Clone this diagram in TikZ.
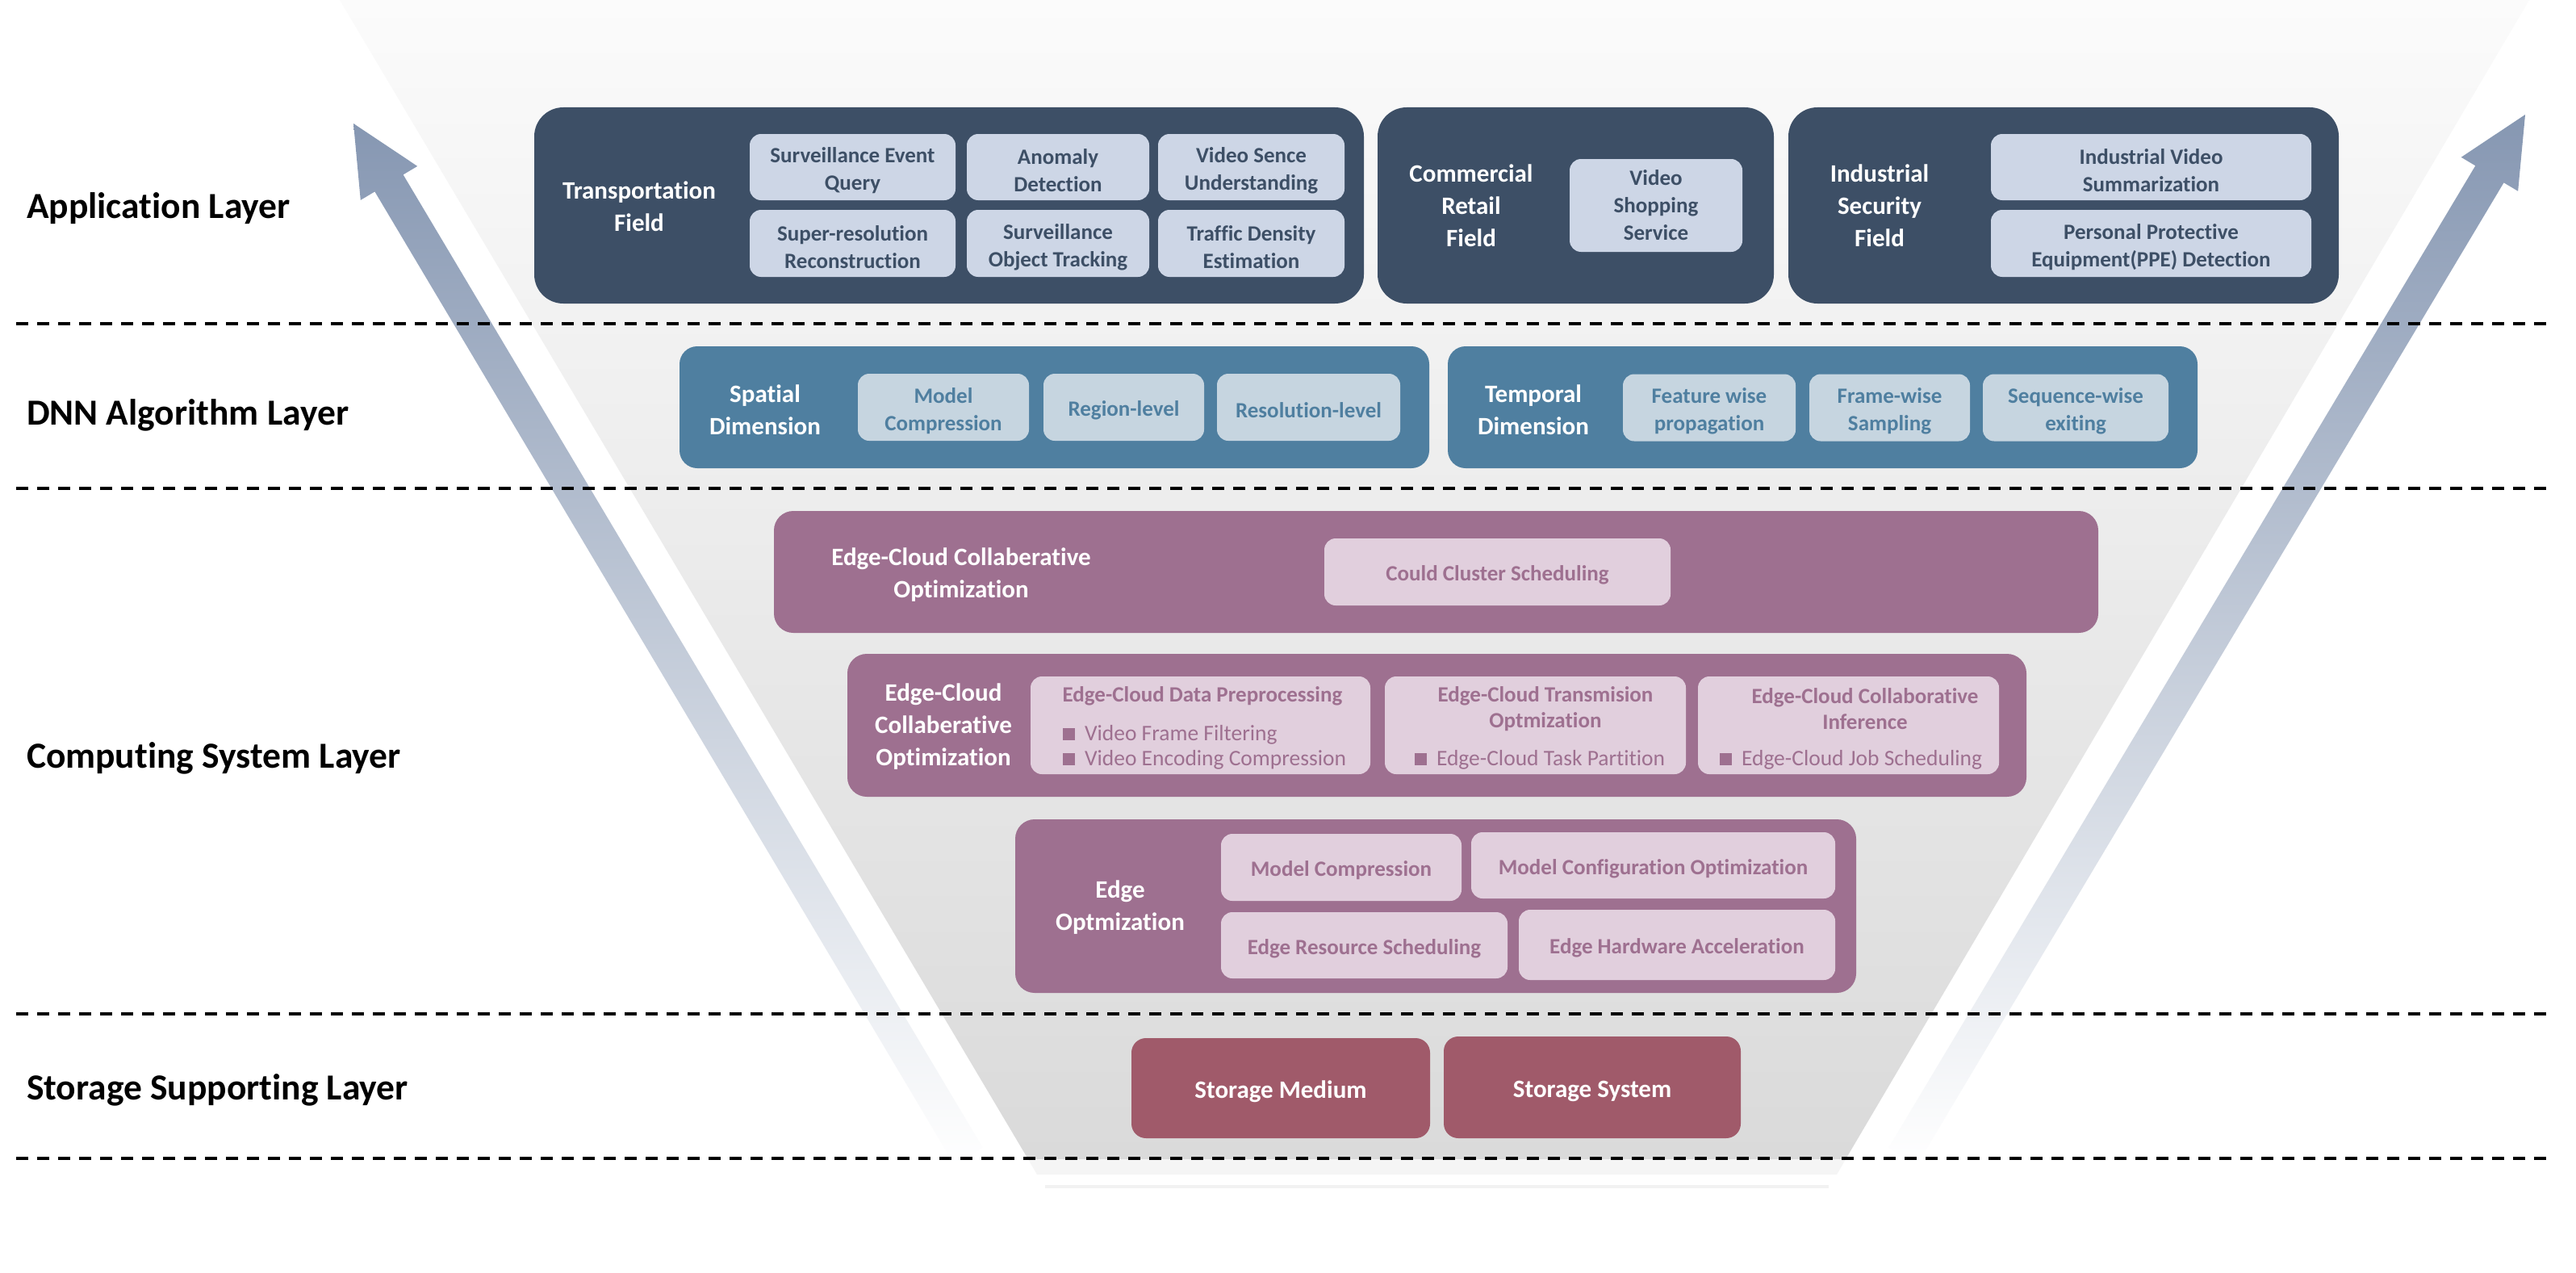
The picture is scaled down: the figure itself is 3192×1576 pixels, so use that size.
\documentclass[tikz,border=0pt]{standalone}
\usepackage{fontspec}
\setmainfont{Carlito}[Ligatures={NoCommon}]
\definecolor{appdark}{RGB}{61,79,102}
\definecolor{appin}{RGB}{205,214,230}
\definecolor{dnn}{RGB}{79,127,160}
\definecolor{dnnin}{RGB}{198,213,224}
\definecolor{comp}{RGB}{158,112,144}
\definecolor{compin}{RGB}{225,207,221}
\definecolor{store}{RGB}{160,90,106}
\definecolor{funtop}{RGB}{251,251,251}
\definecolor{funbot}{RGB}{218,218,218}
\definecolor{arrtop}{RGB}{134,151,178}
\definecolor{arrmid}{RGB}{172,186,206}
\newcommand\blt{\textcolor{comp}{\rule{15pt}{15pt}}\hspace{12pt}}
\newcommand\tstrut[1]{\rule{0pt}{#1}}
\newcommand\ms{\rule{0pt}{28pt}}
\tikzset{
  sz/.style 2 args={minimum width=#1pt, minimum height=#2pt},
  boxbase/.style={inner sep=0pt, outer sep=0pt, align=center},
  appouter/.style={boxbase, fill=appdark, rounded corners=36pt},
  appinner/.style={boxbase, fill=appin, text=appdark, rounded corners=14pt, font=\fontsize{27}{34}\selectfont\bfseries},
  whitelabel/.style={boxbase, text=white, font=\fontsize{31}{40}\selectfont\bfseries},
  dnnouter/.style={boxbase, fill=dnn, rounded corners=22pt},
  dnninner/.style={boxbase, fill=dnnin, text=dnn, rounded corners=14pt, font=\fontsize{27}{34}\selectfont\bfseries},
  single/.style={execute at begin node=\tstrut{27pt}},
  compouter/.style={boxbase, fill=comp, rounded corners=24pt},
  compinner/.style={boxbase, fill=compin, text=comp, rounded corners=14pt, font=\fontsize{27}{33}\selectfont\bfseries, execute at begin node=\tstrut{27pt}},
  compheading/.style={boxbase, text=comp, font=\fontsize{27}{32}\selectfont\bfseries},
  bullettext/.style={inner sep=0pt, outer sep=0pt, anchor=west, text=comp, font=\fontsize{27.5}{32}\selectfont},
  storebox/.style={boxbase, fill=store, text=white, rounded corners=18pt, font=\fontsize{31}{38}\selectfont\bfseries, execute at begin node=\tstrut{30pt}},
  layerlabel/.style={inner sep=0pt, outer sep=0pt, anchor=base west, font=\fontsize{45.5}{54}\selectfont\bfseries},
  divider/.style={line width=4pt, dash pattern=on 15pt off 11pt},
  uparrow/.style={top color=arrtop, middle color=arrmid, bottom color=white},
}
\begin{document}
\begin{tikzpicture}[x=1pt,y=-1pt]
\useasboundingbox[fill=white] (0,0) rectangle (3192,1576);
% funnel
\shade[top color=funtop, bottom color=funbot] (421,0) -- (3134,0) -- (2287,1436) -- (1274,1436) -- cycle;
\fill[black!4] (1274,1436) -- (2287,1436) -- (2276,1455) -- (1285,1455) -- cycle;
\draw[black!5, line width=4pt] (1295,1470) -- (2266,1470);
% arrows
\shade[uparrow] (1182.4,1442.5) -- (464.4,237.4) -- (446.8,247.9) -- (438,153) -- (517.2,205.9) -- (499.6,216.4) -- (1217.6,1421.5) -- cycle;
\shade[uparrow] (2340.4,1421.5) -- (3067.3,205.3) -- (3049.7,194.8) -- (3129,142) -- (3120.1,236.8) -- (3102.5,226.3) -- (2375.6,1442.5) -- cycle;
% dividers
\draw[divider] (20,401) -- (3155,401);
\draw[divider] (20,605) -- (3155,605);
\draw[divider] (20,1256) -- (3155,1256);
\draw[divider] (20,1435) -- (3155,1435);
% layer labels
\node[layerlabel] (labApp) at (33,270) {Application Layer};
\node[layerlabel] (labDnn) at (33,526) {DNN Algorithm Layer};
\node[layerlabel] (labComp) at (33,951) {Computing System Layer};
\node[layerlabel] (labStore) at (33,1362) {Storage Supporting Layer};
% application layer
\node[appouter, sz={1028}{243}] (trans) at (1176,254.5) {};
\node[whitelabel] (transLabel) at (792,256) {Transportation\\Field};
\node[appinner, sz={255}{82}] (t1) at (1056.5,207) {\ms Surveillance Event\\Query};
\node[appinner, sz={226}{82}] (t2) at (1311,207) {\ms Anomaly\\Detection};
\node[appinner, sz={231}{82}] (t3) at (1550.5,207) {\ms Video Sence\\Understanding};
\node[appinner, sz={255}{83}] (t4) at (1056.5,301.5) {\ms Super-resolution\\Reconstruction};
\node[appinner, sz={226}{83}] (t5) at (1311,301.5) {\ms Surveillance\\Object Tracking};
\node[appinner, sz={231}{83}] (t6) at (1550.5,301.5) {\ms Traffic Density\\Estimation};
\node[appouter, sz={491}{243}] (comm) at (1952.5,254.5) {};
\node[whitelabel] (commLabel) at (1823,255) {Commercial\\Retail\\Field};
\node[appinner, sz={214}{115}] (c1) at (2052,254.5) {Video\\Shopping\\Service};
\node[appouter, sz={682}{243}] (ind) at (2557,254.5) {};
\node[whitelabel] (indLabel) at (2329,255) {Industrial\\Security\\Field};
\node[appinner, sz={397}{82}] (i1) at (2665.5,207) {\ms Industrial Video\\Summarization};
\node[appinner, sz={397}{83}] (i2) at (2665.5,301.5) {\ms Personal Protective\\Equipment(PPE) Detection};
% DNN layer
\node[dnnouter, sz={929}{151}] (spatial) at (1306.5,504.5) {};
\node[whitelabel] (spatialLabel) at (948,508) {Spatial\\Dimension};
\node[dnninner, sz={212}{83}] (s1) at (1169,504.5) {\ms Model\\Compression};
\node[dnninner, single, sz={199}{83}] (s2) at (1392.5,504.5) {Region-level};
\node[dnninner, single, sz={227}{83}] (s3) at (1621.5,504.5) {Resolution-level};
\node[dnnouter, sz={929}{151}] (temporal) at (2258.5,504.5) {};
\node[whitelabel] (temporalLabel) at (1900,508) {Temporal\\Dimension};
\node[dnninner, sz={214}{83}] (tp1) at (2118,505) {\ms Feature wise\\propagation};
\node[dnninner, sz={199}{83}] (tp2) at (2341.5,505) {\ms Frame-wise\\Sampling};
\node[dnninner, sz={230}{83}] (tp3) at (2572,505) {\ms Sequence-wise\\exiting};
% computing layer
\node[compouter, sz={1641}{151}] (cloud) at (1779.5,708.5) {};
\node[whitelabel] (cloudLabel) at (1191,712) {Edge-Cloud Collaberative\\Optimization};
\node[compinner, sz={429}{83}] (cl1) at (1855.5,708.5) {Could Cluster Scheduling};
\node[compouter, sz={1461}{177}] (ec) at (1780.5,898.5) {};
\node[whitelabel] (ecLabel) at (1169,900) {Edge-Cloud\\Collaberative\\Optimization};
\node[compinner, sz={421}{121}] (ec1) at (1487.5,898.5) {};
\node[compinner, sz={373}{121}] (ec2) at (1902.5,898.5) {};
\node[compinner, sz={373}{121}] (ec3) at (2290.5,898.5) {};
\node[compheading] (ec1h) at (1490,862) {Edge-Cloud Data Preprocessing};
\node[bullettext] (ec1b1) at (1317,910) {\blt Video Frame Filtering};
\node[bullettext] (ec1b2) at (1317,941) {\blt Video Encoding Compression};
\node[compheading] (ec2h) at (1915,878) {Edge-Cloud Transmision\\Optmization};
\node[bullettext] (ec2b1) at (1753,941) {\blt Edge-Cloud Task Partition};
\node[compheading] (ec3h) at (2311,878) {Edge-Cloud Collaborative\\Inference};
\node[bullettext] (ec3b1) at (2131,941) {\blt Edge-Cloud Job Scheduling};
\node[compouter, sz={1042}{215}] (edge) at (1779,1122.5) {};
\node[whitelabel] (edgeLabel) at (1388,1124) {Edge\\Optmization};
\node[compinner, sz={298}{83}] (e1) at (1662,1074.5) {Model Compression};
\node[compinner, sz={451}{82}] (e2) at (2048.5,1072) {Model Configuration Optimization};
\node[compinner, sz={355}{82}] (e3) at (1690.5,1171) {Edge Resource Scheduling};
\node[compinner, sz={392}{87}] (e4) at (2078,1170.5) {Edge Hardware Acceleration};
% storage layer
\node[storebox, sz={370}{124}] (sm) at (1587,1348) {Storage Medium};
\node[storebox, sz={368}{126}] (ss) at (1973,1347) {Storage System};
\end{tikzpicture}
\end{document}
